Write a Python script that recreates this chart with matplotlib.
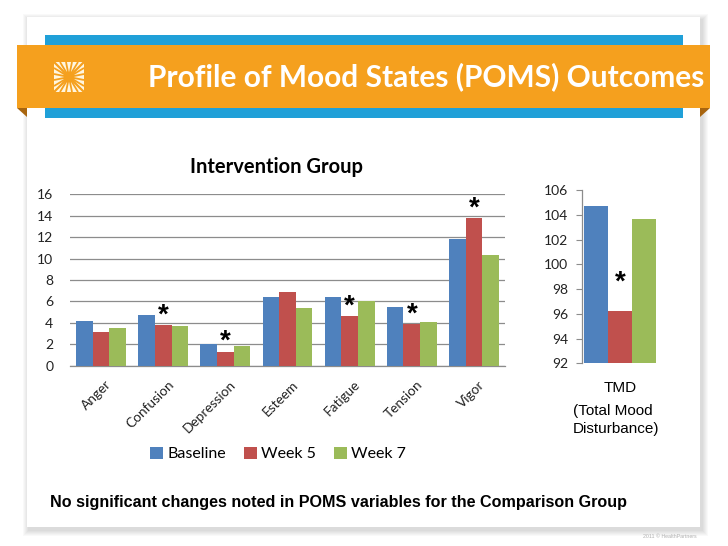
import matplotlib
matplotlib.use("Agg")
import matplotlib.pyplot as plt
import numpy as np
from matplotlib.patches import Rectangle, Polygon

# ---------------- data ----------------
categories = ["Anger", "Confusion", "Depression", "Esteem", "Fatigue", "Tension", "Vigor"]
baseline = [4.2, 4.75, 2.0, 6.4, 6.4, 5.5, 11.85]
week5 = [3.1, 3.8, 1.3, 6.85, 4.65, 3.9, 13.75]
week7 = [3.55, 3.75, 1.85, 5.4, 6.05, 4.1, 10.35]
significant = [False, True, True, False, True, True, True]

tmd_baseline = 104.7
tmd_week5 = 96.25
tmd_week7 = 103.65
tmd_significant = True

series_names = ["Baseline", "Week 5", "Week 7"]
left_yticks = [0, 2, 4, 6, 8, 10, 12, 14, 16]
right_yticks = [92, 94, 96, 98, 100, 102, 104, 106]

C_BLUE = "#4F81BD"
C_RED = "#C0504D"
C_GREEN = "#9BBB59"
colors = [C_BLUE, C_RED, C_GREEN]

W, H = 728, 546
fig = plt.figure(figsize=(W / 100, H / 100), dpi=100)
fig.patch.set_facecolor("white")

def fx(px):
    return px / W

def fy(py):
    return 1 - py / H

# ---------------- background / slide decorations ----------------
bg = fig.add_axes([0, 0, 1, 1], zorder=0)
bg.set_xlim(0, W)
bg.set_ylim(H, 0)
bg.axis("off")

# card shadow
for i in range(6):
    d = 1 + i
    bg.add_patch(Rectangle((27 - d + 2, 17 - d + 3), 673 + 2 * d, 510 + 2 * d,
                           facecolor="#000000", alpha=0.022, edgecolor="none", zorder=1))
bg.add_patch(Rectangle((27, 17), 673, 510, facecolor="white", edgecolor="none", zorder=2))

# blue strip, orange banner, folds
bg.add_patch(Rectangle((45, 35), 638, 83, facecolor="#20A0D8", edgecolor="none", zorder=3))
bg.add_patch(Rectangle((17, 45), 693, 63, facecolor="#F5A01E", edgecolor="none", zorder=4))
bg.add_patch(Polygon([[17, 108], [27, 108], [27, 117]], closed=True,
                     facecolor="#A8650F", edgecolor="none", zorder=4))
bg.add_patch(Polygon([[700, 108], [710, 108], [700, 117]], closed=True,
                     facecolor="#A8650F", edgecolor="none", zorder=4))

# logo
lx, ly, ls = 54, 62, 30
bg.add_patch(Rectangle((lx, ly), ls, ls, facecolor="#FFF6E0", edgecolor="none", zorder=5))
cx, cy = lx + ls / 2, ly + ls / 2
for t in np.linspace(0, 1, 6)[1:-1]:
    for (x0, y0) in [(lx + t * ls, ly), (lx + t * ls, ly + ls), (lx, ly + t * ls), (lx + ls, ly + t * ls)]:
        bg.plot([cx, x0], [cy, y0], color="#F5A01E", lw=1.3, zorder=6, solid_capstyle="butt")
for (x0, y0) in [(lx, ly), (lx + ls, ly), (lx, ly + ls), (lx + ls, ly + ls)]:
    bg.plot([cx, x0], [cy, y0], color="#F5A01E", lw=1.6, zorder=6)
bg.plot([cx - 3, cx + 3], [cy, cy], color="#F5A01E", lw=3, zorder=6)
bg.plot([cx, cx], [cy - 3, cy + 3], color="#F5A01E", lw=3, zorder=6)

bg.text(148, 77, "Profile of Mood States (POMS) Outcomes", color="white",
        fontsize=21.5, fontweight="bold", family="Lato", ha="left", va="center", zorder=7)

bg.text(276, 167, "Intervention Group", color="black", fontsize=14.5,
        fontweight="bold", family="Lato", ha="center", va="center", zorder=7)

bg.text(50, 503, "No significant changes noted in POMS variables for the Comparison Group",
        color="black", fontsize=11.6, fontweight="bold", family="Liberation Sans",
        ha="left", va="center", zorder=7)

bg.text(697, 537, "2011 \u00a9 HealthPartners", color="#B0B0B0", fontsize=3.8,
        family="Liberation Sans", ha="right", va="center", zorder=7)

bg.text(620, 388, "TMD", color="black", fontsize=11, family="Liberation Sans",
        ha="center", va="center", zorder=7)
bg.text(573, 420, "(Total Mood\nDisturbance)", color="black", fontsize=11,
        family="Liberation Sans", ha="left", va="center", linespacing=1.3, zorder=7)

# ---------------- left chart ----------------
ax = fig.add_axes([fx(70), fy(365.7), fx(505) - fx(70), fy(194.3) - fy(365.7)], zorder=2)
ax.set_facecolor("none")
x = np.arange(len(categories))
bw = 0.268
for i, (vals, c) in enumerate(zip([baseline, week5, week7], colors)):
    ax.bar(x + (i - 1) * bw, vals, width=bw, color=c, edgecolor="none", zorder=3,
           label=series_names[i])
for xi, v, s in zip(x, week5, significant):
    if s:
        ax.annotate("*", (xi, v), xytext=(0, 7), textcoords="offset points",
                    ha="center", va="center", fontsize=20, fontweight="bold",
                    family="Liberation Sans", zorder=5)
ax.set_xlim(-0.5, len(categories) - 0.5)
ax.set_ylim(0, 16)
ax.set_yticks(left_yticks)
ax.yaxis.grid(True, color="#8C8C8C", lw=0.9, zorder=0)
ax.set_axisbelow(True)
for sp in ["top", "right", "left"]:
    ax.spines[sp].set_visible(False)
ax.spines["bottom"].set_color("#8C8C8C")
ax.spines["bottom"].set_linewidth(0.9)
ax.tick_params(axis="y", length=0, pad=12, labelsize=10, labelcolor="#222222")
ax.tick_params(axis="x", length=0, pad=9)
ax.set_xticks(x + 0.07)
ax.set_xticklabels(categories, rotation=45, ha="right", rotation_mode="anchor",
                   fontsize=9.8, family="Lato", color="#222222")
for lab in ax.get_yticklabels():
    lab.set_family("Lato")

# legend
handles = [Rectangle((0, 0), 1, 1, facecolor=c, edgecolor="none") for c in colors]
fig.legend(handles, series_names, loc="center", bbox_to_anchor=(fx(278), fy(454)),
           ncol=3, frameon=False, prop={"family": "Lato", "size": 11.5},
           handlelength=0.85, handleheight=0.85, handletextpad=0.25, columnspacing=1.1)

# ---------------- right chart ----------------
ax2 = fig.add_axes([fx(582), fy(363.3), fx(658) - fx(582), fy(190) - fy(363.3)], zorder=2)
ax2.set_facecolor("none")
rbw = 0.316
for i, (v, c) in enumerate(zip([tmd_baseline, tmd_week5, tmd_week7], colors)):
    ax2.bar((i - 1) * rbw, v, width=rbw, color=c, edgecolor="none", zorder=3)
if tmd_significant:
    ax2.annotate("*", (0, tmd_week5), xytext=(0, 20), textcoords="offset points",
                 ha="center", va="center", fontsize=20, fontweight="bold",
                 family="Liberation Sans", zorder=5)
ax2.set_xlim(-0.5, 0.5)
ax2.set_ylim(92, 106)
ax2.set_yticks(right_yticks)
ax2.set_xticks([])
for sp in ["top", "right", "bottom"]:
    ax2.spines[sp].set_visible(False)
ax2.spines["left"].set_color("#8C8C8C")
ax2.spines["left"].set_linewidth(0.9)
ax2.tick_params(axis="y", length=4, color="#8C8C8C", pad=6, labelsize=10,
                labelcolor="#222222")
for lab in ax2.get_yticklabels():
    lab.set_family("Lato")

fig.savefig("out.png", dpi=100, facecolor="white")
